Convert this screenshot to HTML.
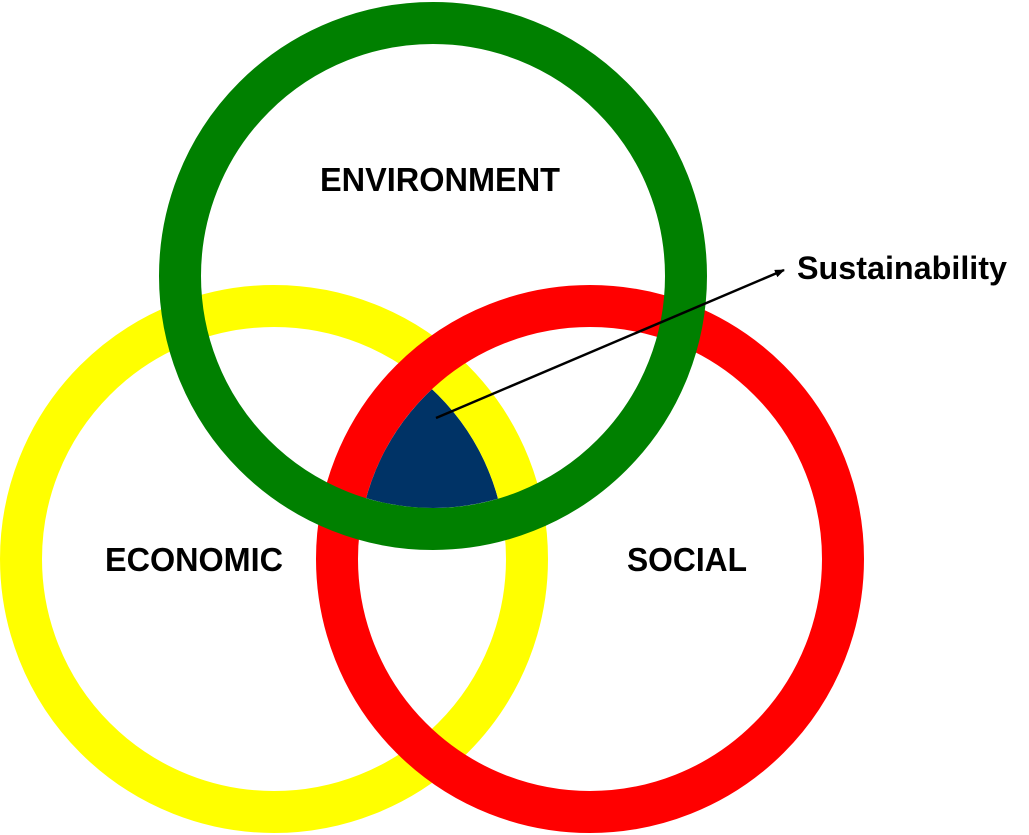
<!DOCTYPE html>
<html><head><meta charset="utf-8"><style>
html,body{margin:0;padding:0;background:#fff;}
svg{display:block;}
text{font-family:"Liberation Sans",Arial,sans-serif;font-weight:bold;fill:#000;}
</style></head><body>
<svg width="1029" height="835" viewBox="0 0 1029 835" xmlns="http://www.w3.org/2000/svg">
<defs>
<clipPath id="cy"><circle cx="274" cy="559" r="232"/></clipPath>
<clipPath id="cr"><circle cx="590" cy="559" r="232"/></clipPath>
<marker id="ah" markerWidth="10" markerHeight="8" refX="9" refY="4" orient="auto" markerUnits="userSpaceOnUse">
<path d="M0,0 L10,4 L0,8 z" fill="#000"/></marker>
</defs>
<g clip-path="url(#cy)"><g clip-path="url(#cr)">
<circle cx="433" cy="276" r="232" fill="#003366"/>
</g></g>
<circle cx="274" cy="559" r="253" fill="none" stroke="#ffff00" stroke-width="42"/>
<circle cx="590" cy="559" r="253" fill="none" stroke="#ff0000" stroke-width="42"/>
<circle cx="433" cy="276" r="253" fill="none" stroke="#008000" stroke-width="42"/>
<line x1="436" y1="418" x2="784" y2="270" stroke="#000" stroke-width="2.5" marker-end="url(#ah)"/>
<text x="320" y="191" font-size="33" textLength="240" lengthAdjust="spacingAndGlyphs">ENVIRONMENT</text>
<text x="797" y="279" font-size="32" textLength="210" lengthAdjust="spacingAndGlyphs">Sustainability</text>
<text x="105" y="571" font-size="33" textLength="178" lengthAdjust="spacingAndGlyphs">ECONOMIC</text>
<text x="627" y="571" font-size="33" textLength="120" lengthAdjust="spacingAndGlyphs">SOCIAL</text>
</svg>
</body></html>
